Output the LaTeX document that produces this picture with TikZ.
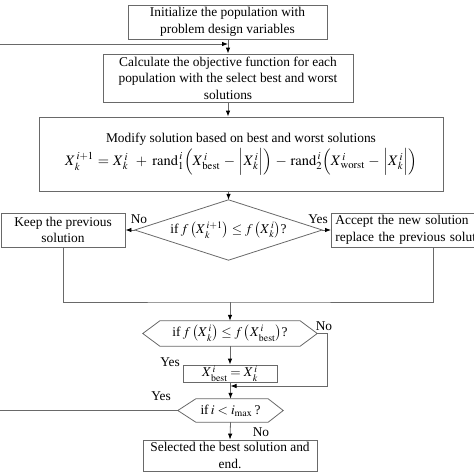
\documentclass[tikz,border=0pt]{standalone}
\usepackage{mathptmx}
\usepackage[no-math]{fontspec}
\setmainfont{Liberation Serif}
\usetikzlibrary{arrows.meta}
\definecolor{linegray}{RGB}{105,105,105}
\begin{document}
\begin{tikzpicture}[x=1pt,y=-1pt,
  txt/.style={font=\fontsize{13.4}{16.5}\selectfont, text=black},
  box/.style={txt, draw=linegray, line width=0.8pt, inner sep=0pt, align=center},
  plain/.style={txt, inner sep=0pt, align=center},
  shapeline/.style={draw=linegray, line width=0.8pt},
  conn/.style={draw=linegray, line width=0.8pt},
  arr/.style={conn, -{Latex[length=6pt,width=4.5pt,color=black]}},
  lbl/.style={txt, inner sep=0pt}
]
\useasboundingbox (0,0) rectangle (474,474);
\clip (0,0) rectangle (474,474);

\node[box, minimum width=199pt, minimum height=34pt] (init) at (227.5,22)
  {Initialize the population with\\problem design variables};
\node[box, minimum width=250pt, minimum height=48pt] (calc) at (228,78)
  {Calculate the objective function for each\\population with the select best and worst\\solutions};
\node[box, minimum width=404pt, minimum height=74pt] (mod) at (241,154)
  {Modify solution based on best and worst solutions\\[2pt]
   {\fontsize{14.5}{16}\selectfont\medmuskip=4.5mu\thickmuskip=5mu
   $X^{\,i+1}_{\,k} = X^{\,i}_{\,k} \;+\, \mathrm{rand}_1^{\,i}\Bigl(X^{\,i}_{\,\mathrm{best}} - \Bigl|X^{\,i}_{\,k}\Bigr|\Bigr) - \mathrm{rand}_2^{\,i}\Bigl(X^{\,i}_{\,\mathrm{worst}} - \Bigl|X^{\,i}_{\,k}\Bigr|\Bigr)$}};

\node[plain, minimum width=187pt, minimum height=60pt] (dec1) at (228.5,230)
  {if\,$f\,\bigl(X^{\,i+1}_{\,k}\bigr)\le f\,\bigl(X^{\,i}_{\,k}\bigr)$?};
\draw[shapeline] (dec1.north) -- (dec1.east) -- (dec1.south) -- (dec1.west) -- cycle;

\node[box, minimum width=124pt, minimum height=34pt] (keep) at (63,230)
  {Keep the previous\\solution};
\node[box, anchor=west, minimum width=204pt, text width=196pt, inner xsep=4pt, minimum height=34pt, align=left] (acc) at (331,230)
  {Accept the new solution\\replace the previous solution};

\coordinate (merge) at (230,302);

\node[plain, minimum width=174pt, minimum height=25pt] (dec2) at (230,333.5)
  {if\,$f\,\bigl(X^{\,i}_{\,k}\bigr)\le f\,\bigl(X^{\,i}_{\,\mathrm{best}}\bigr)$?};
\draw[shapeline] (dec2.west) -- ([xshift=17pt]dec2.north west) -- ([xshift=-17pt]dec2.north east)
  -- (dec2.east) -- ([xshift=-17pt]dec2.south east) -- ([xshift=17pt]dec2.south west) -- cycle;

\node[box, minimum width=94pt, minimum height=17pt] (upd) at (230,373.5)
  {$X^{\,i}_{\,\mathrm{best}} = X^{\,i}_{\,k}$};

\node[plain, minimum width=105pt, minimum height=23pt] (dec3) at (230.5,410.5)
  {if\,$i < i_{\max}$\,?};
\draw[shapeline] (dec3.west) -- ([xshift=18pt]dec3.north west) -- ([xshift=-15pt]dec3.north east)
  -- (dec3.east) -- ([xshift=-15pt]dec3.south east) -- ([xshift=18pt]dec3.south west) -- cycle;

\node[box, minimum width=174pt, minimum height=31pt] (fin) at (230,455.5)
  {Selected the best solution and\\end.};

\coordinate (join) at (230.5,386);
\coordinate (loopin) at (228,44);

% connectors
\draw[arr] (calc.north |- init.south) -- (calc.north);
\draw[arr] (calc.south) -- (calc.south |- mod.north);
\draw[arr] (mod.south -| dec1.north) -- (dec1.north);
\draw[arr] (dec1.west) -- (keep.east);
\draw[arr] (dec1.east) -- (acc.west);
\draw[conn] (keep.south) |- (merge) -| (acc.south);
\draw[arr] (merge) -- (dec2.north);
\draw[arr] (dec2.south) -- (upd.north);
\draw[arr] (upd.south -| dec3.north) -- (dec3.north);
\draw[arr] (dec2.east) -- ++(10pt,0) |- (join);
\draw[arr] (dec3.south) -- (fin.north);
\draw[arr] (dec3.west) -- (-5,410.5) |- (loopin);

% labels
\node[lbl] (lno1) at (139,219) {No};
\node[lbl] (lyes1) at (318,219) {Yes};
\node[lbl] (lno2) at (324,326) {No};
\node[lbl] (lyes2) at (170,362) {Yes};
\node[lbl] (lyes3) at (161,396) {Yes};
\node[lbl] (lno3) at (261,432) {No};
\end{tikzpicture}
\end{document}
